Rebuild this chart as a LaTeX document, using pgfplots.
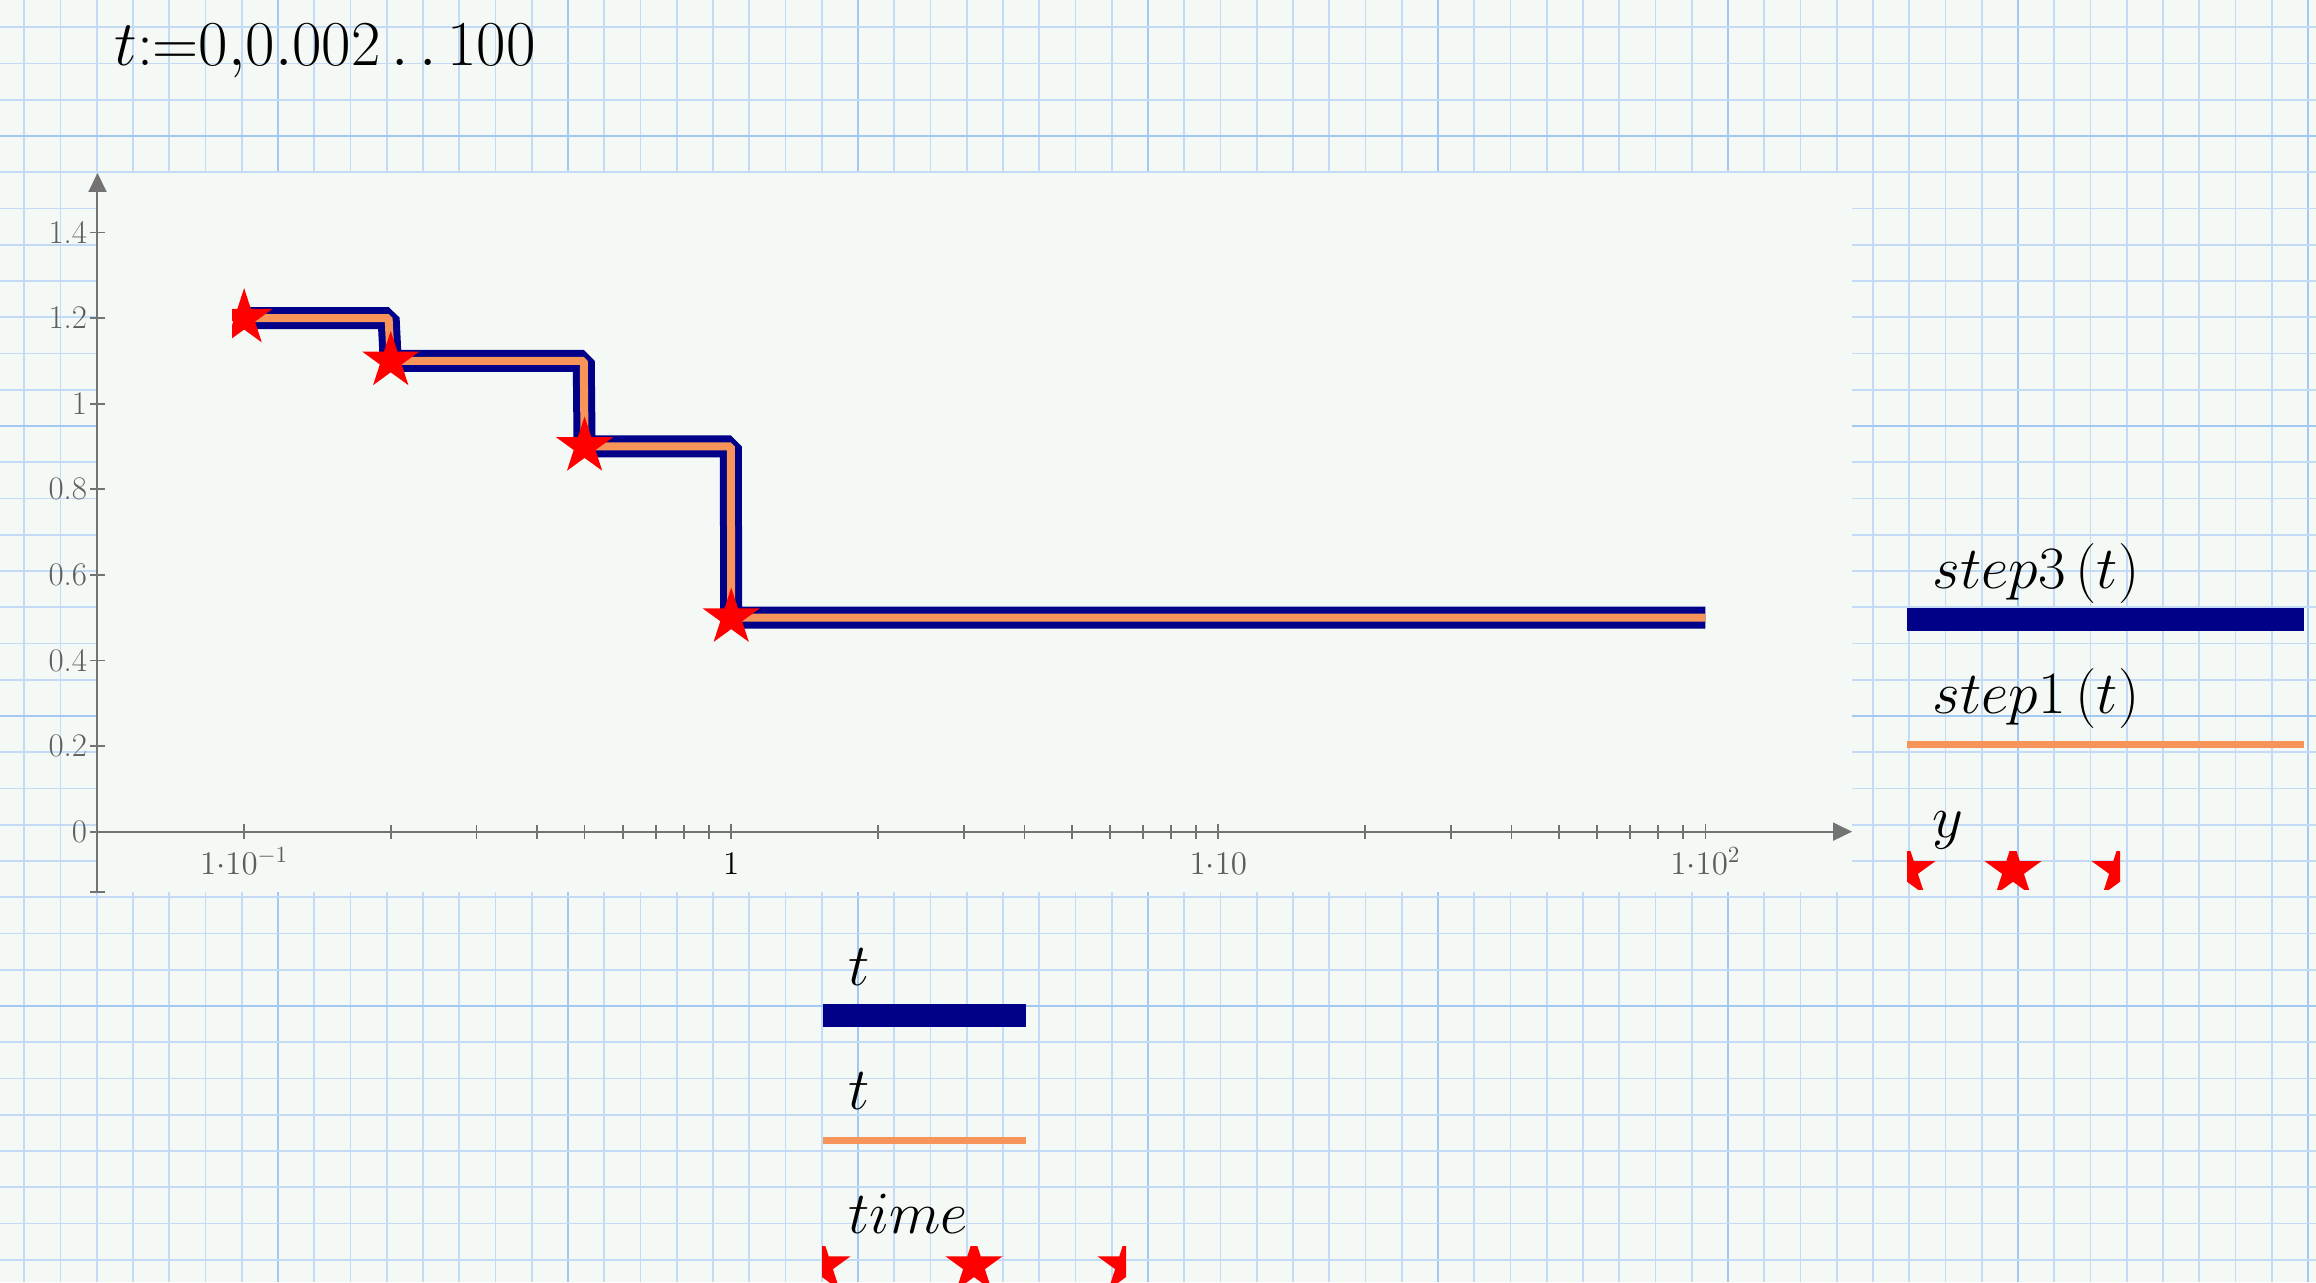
\RequirePackage{fix-cm}
\documentclass[border=0pt]{standalone}
\usepackage{pgfplots}
\usepackage{pgfplotstable}
\pgfplotsset{compat=1.18}
\usetikzlibrary{arrows.meta}
\definecolor{paperbg}{HTML}{F5F9F5}
\definecolor{gridminor}{HTML}{C4DBF6}
\definecolor{gridmajor}{HTML}{A3C8F2}
\definecolor{navyline}{HTML}{000088}
\definecolor{orangeline}{HTML}{F7945A}
\definecolor{axisgray}{HTML}{737373}
\definecolor{tickgray}{HTML}{5E5E5E}
\pgfdeclareplotmark{fstar}{%
 \pgfpathmoveto{\pgfpointpolar{90}{\pgfplotmarksize}}%
 \pgfpathlineto{\pgfpointpolar{126}{0.382\pgfplotmarksize}}%
 \pgfpathlineto{\pgfpointpolar{162}{\pgfplotmarksize}}%
 \pgfpathlineto{\pgfpointpolar{198}{0.382\pgfplotmarksize}}%
 \pgfpathlineto{\pgfpointpolar{234}{\pgfplotmarksize}}%
 \pgfpathlineto{\pgfpointpolar{270}{0.382\pgfplotmarksize}}%
 \pgfpathlineto{\pgfpointpolar{306}{\pgfplotmarksize}}%
 \pgfpathlineto{\pgfpointpolar{342}{0.382\pgfplotmarksize}}%
 \pgfpathlineto{\pgfpointpolar{18}{\pgfplotmarksize}}%
 \pgfpathlineto{\pgfpointpolar{54}{0.382\pgfplotmarksize}}%
 \pgfpathclose\pgfusepathqfill}

% step3(t) and step1(t) (identical values)
\pgfplotstableread{
t y
0.1 1.2
0.198 1.2
0.2 1.1
0.498 1.1
0.5 0.9
0.998 0.9
1 0.5
100 0.5
}\stepthree
\pgfplotstableread{
t y
0.1 1.2
0.198 1.2
0.2 1.1
0.498 1.1
0.5 0.9
0.998 0.9
1 0.5
100 0.5
}\stepone
% y versus time
\pgfplotstableread{
time y
0.1 1.2
0.2 1.1
0.5 0.9
1 0.5
}\stardata

\begin{document}
\begin{tikzpicture}
% ---------- worksheet paper (pixel coordinates, y downwards) ----------
\begin{axis}[name=paper, at={(0pt,0pt)}, anchor=south west,
  scale only axis, width=1158pt, height=641pt,
  xmin=0, xmax=2316, ymin=0, ymax=1282, y dir=reverse,
  axis line style={draw=none}, tick style={draw=none},
  major tick length=0pt, minor tick length=0pt,
  xmajorticks=false, xminorticks=false, ymajorticks=false, yminorticks=false,
  xtick={278,568,...,2308}, ytick={136,426,716,1006},
  minor xtick={24.25,60.5,...,2310}, minor ytick={27.25,63.5,...,1281},
  xmajorgrids, xminorgrids, ymajorgrids, yminorgrids,
  minor grid style={gridminor, line width=0.8pt},
  major grid style={gridmajor, line width=1.1pt},
  axis background/.style={fill=paperbg}]
 \node[anchor=base west, inner sep=0pt] at (axis cs:114,65)
   {\fontsize{32}{38}\selectfont $t{:}{=}0{,}0.002\,.\,.\,100$};
 % legend of the y-axis (right)
 \node[anchor=base west, inner sep=0pt] at (axis cs:1932,588)
   {\fontsize{30}{36}\selectfont $step3\,(t)$};
 \addplot[navyline, line width=11.5pt, forget plot] coordinates {(1907,619.5) (2304,619.5)};
 \node[anchor=base west, inner sep=0pt] at (axis cs:1932,713)
   {\fontsize{30}{36}\selectfont $step1\,(t)$};
 \addplot[orangeline, line width=3.7pt, forget plot] coordinates {(1907,744.7) (2304,744.7)};
 \node[anchor=base west, inner sep=0pt] at (axis cs:1932,837)
   {\fontsize{30}{36}\selectfont $y$};
 % legend of the x-axis (bottom)
 \node[anchor=base west, inner sep=0pt] at (axis cs:848,985)
   {\fontsize{30}{36}\selectfont $t$};
 \addplot[navyline, line width=11.5pt, forget plot] coordinates {(823,1015.5) (1026,1015.5)};
 \node[anchor=base west, inner sep=0pt] at (axis cs:848,1109.3)
   {\fontsize{30}{36}\selectfont $t$};
 \addplot[orangeline, line width=3.7pt, forget plot] coordinates {(823,1140.5) (1026,1140.5)};
 \node[anchor=base west, inner sep=0pt] at (axis cs:848,1233.3)
   {\fontsize{30}{36}\selectfont $time$};
\end{axis}

% legend sample of y (stars), clipped to the sample box
\begin{axis}[at={(953.5pt,196.5pt)}, anchor=south west, scale only axis,
  width=106.5pt, height=19pt, xmin=1907, xmax=2120, ymin=851, ymax=889,
  y dir=reverse, hide axis, clip marker paths=true]
 \addplot[red, only marks, mark=fstar, mark size=15pt]
   coordinates {(1907,870.3) (2013,870.3) (2120,870.3)};
\end{axis}
% legend sample of time (stars), clipped to the sample box
\begin{axis}[at={(411pt,0pt)}, anchor=south west, scale only axis,
  width=152pt, height=18pt, xmin=822, xmax=1126, ymin=1246, ymax=1282,
  y dir=reverse, hide axis, clip marker paths=true]
 \addplot[red, only marks, mark=fstar, mark size=15pt]
   coordinates {(822,1265.6) (974,1265.6) (1126,1265.6)};
\end{axis}

% ---------- the plot ----------
\begin{axis}[at={(48.75pt,195pt)}, anchor=south west,
  scale only axis, width=877.25pt, height=359.5pt,
  xmode=log, xmin=0.05, xmax=200, ymin=-0.141, ymax=1.539,
  axis x line=middle, axis y line=left,
  hide obscured x ticks=false, hide obscured y ticks=false,
  axis line style={axisgray, line width=1pt},
  x axis line style={-{Triangle[length=9.5pt,width=9pt]}},
  y axis line style={-{Triangle[length=9.5pt,width=9pt]}},
  axis background/.style={fill=paperbg},
  xtick={0.1,1,10,100},
  minor xtick={0.2,0.3,0.4,0.5,0.6,0.7,0.8,0.9,2,3,4,5,6,7,8,9,20,30,40,50,60,70,80,90},
  xticklabels={{\textcolor{tickgray}{$1{\cdot}10^{-1}$}},{$1$},{\textcolor{tickgray}{$1{\cdot}10$}},{\textcolor{tickgray}{$1{\cdot}10^{2}$}}},
  ytick={0,0.2,0.4,0.6,0.8,1,1.2,1.4},
  yticklabels={0,0.2,0.4,0.6,0.8,1,1.2,1.4},
  extra y ticks={-0.141}, extra y tick labels={},
  tick align=center, major tick length=7.5pt, minor tick length=7pt,
  tick style={axisgray, line width=0.9pt},
  every tick label/.append style={font=\fontsize{16.5}{19}\selectfont},
  yticklabel style={text=tickgray, anchor=east, inner sep=0pt, xshift=-1.25pt},
  xticklabel style={anchor=base, inner sep=0pt, yshift=-17.5pt}]
 \addplot[navyline, line width=11pt, line join=bevel] table[x=t, y=y] {\stepthree};
 \addplot[orangeline, line width=4pt, line join=bevel] table[x=t, y=y] {\stepone};
\end{axis}
% y versus time (stars), clipped at the left as in the worksheet
\begin{axis}[at={(116.08pt,195pt)}, anchor=south west,
  scale only axis, width=809.92pt, height=359.5pt,
  xmode=log, xmin=0.0945, xmax=200, ymin=-0.141, ymax=1.539,
  hide axis, clip marker paths=true]
 \addplot[red, only marks, mark=fstar, mark size=15pt] table[x=time, y=y] {\stardata};
\end{axis}
\pgfresetboundingbox
\useasboundingbox (0pt,0pt) rectangle (1158pt,641pt);
\end{tikzpicture}
\end{document}
